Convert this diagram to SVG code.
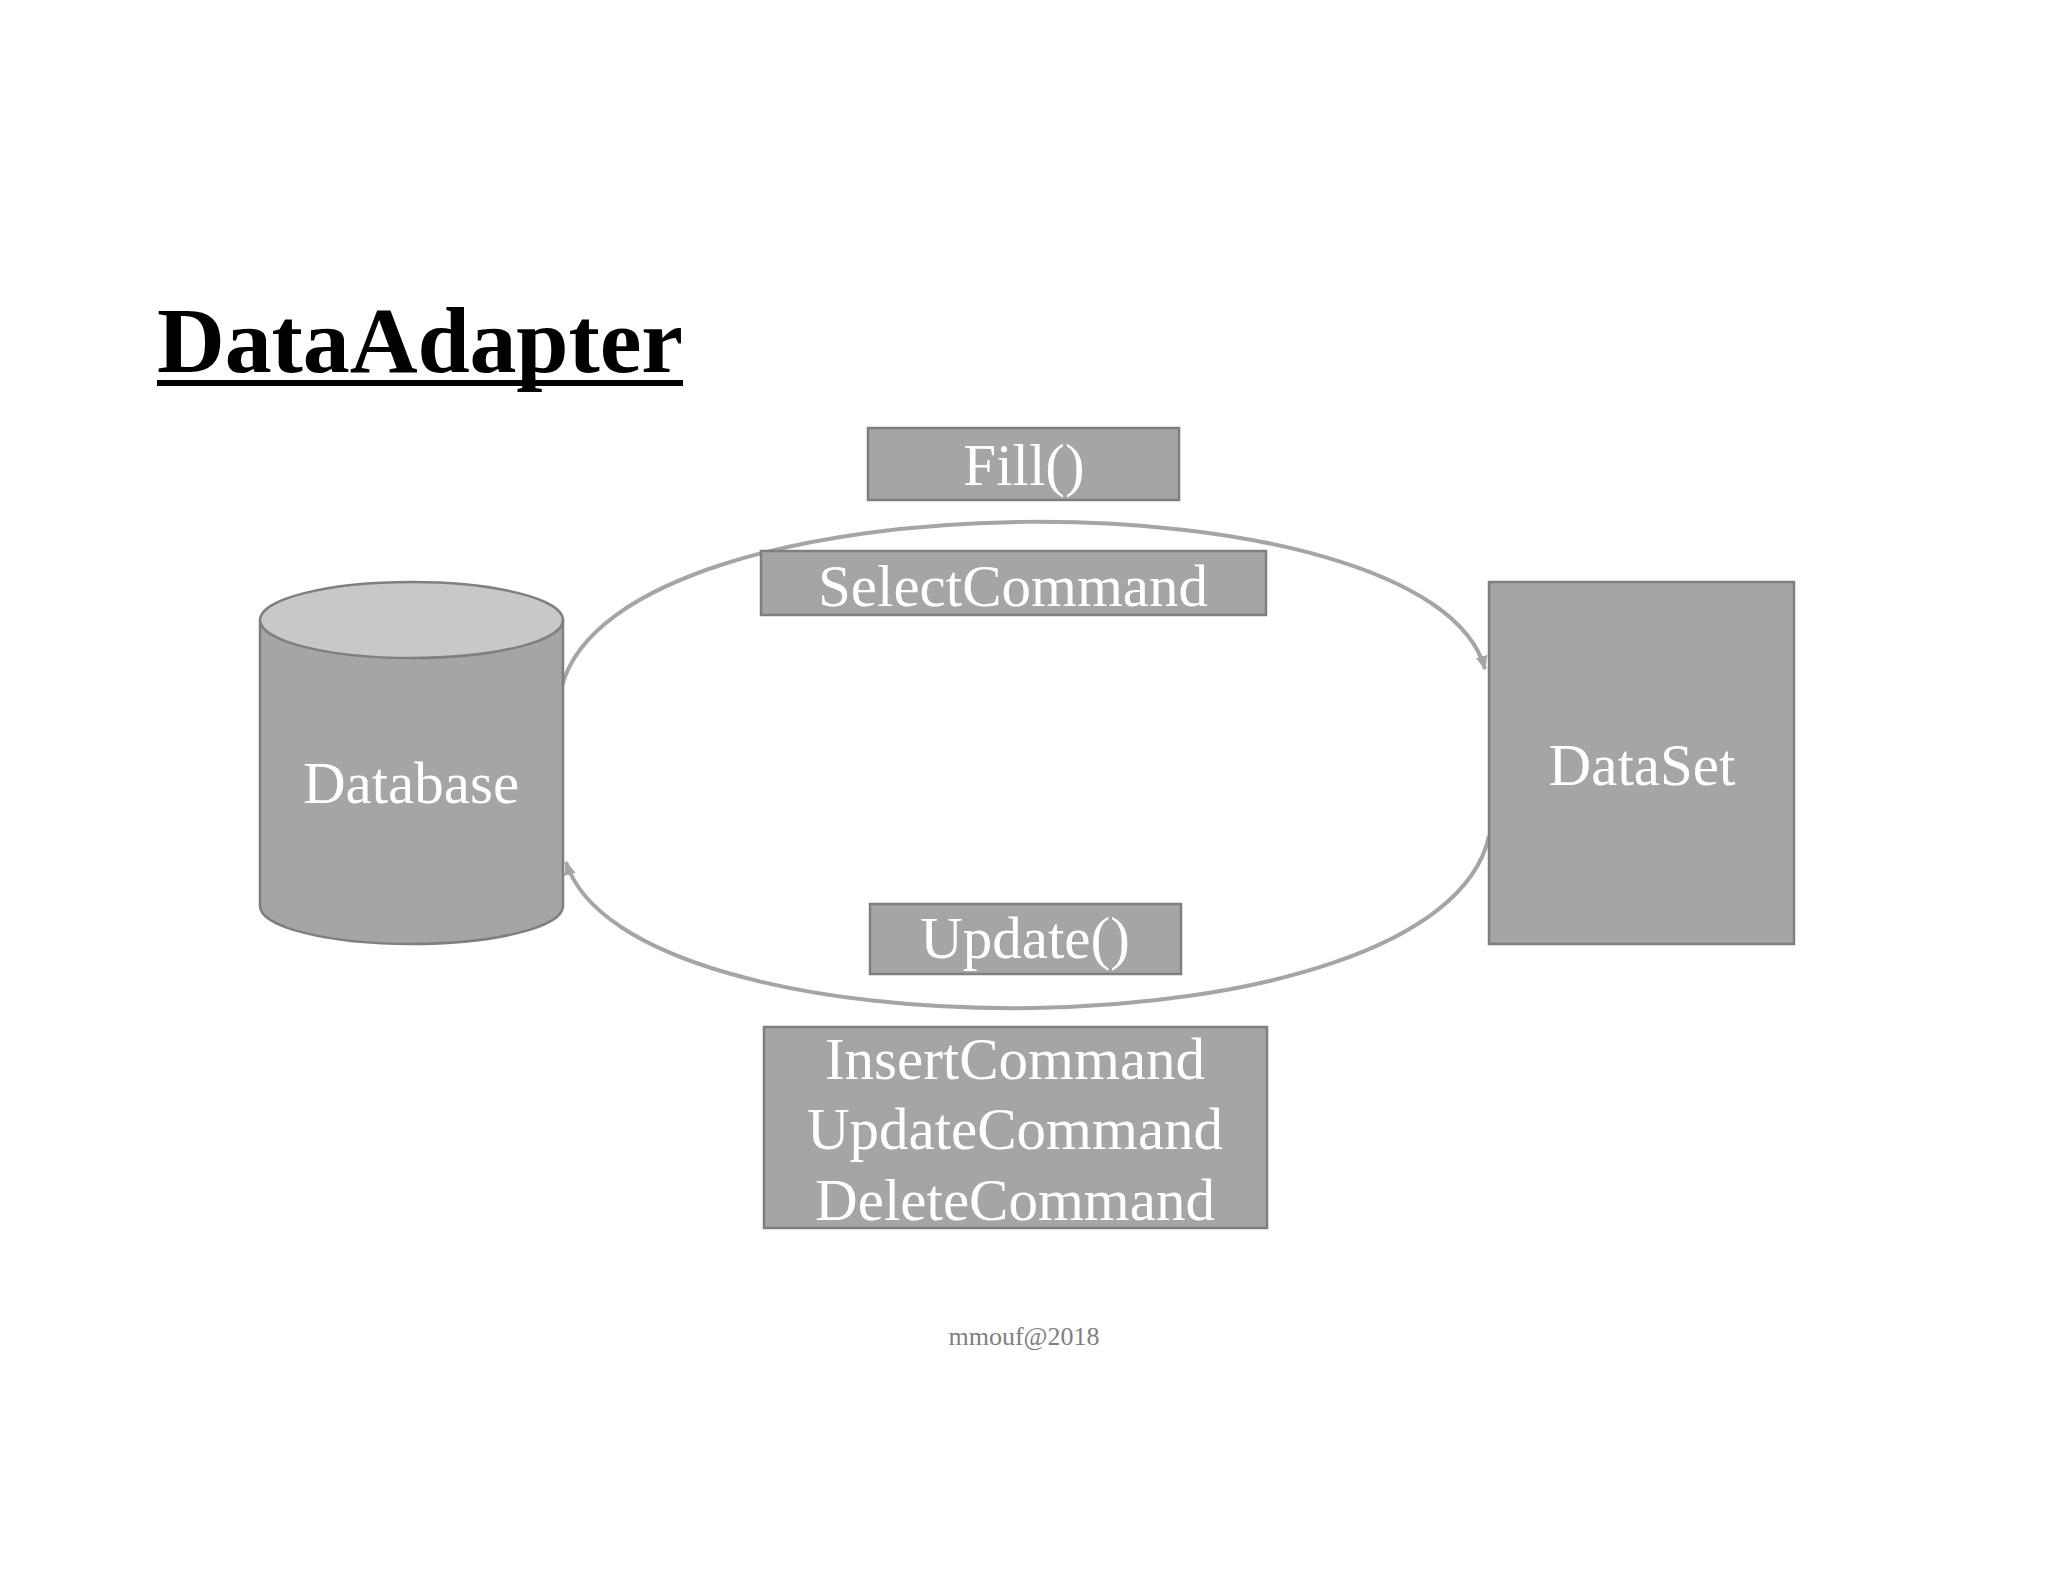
<svg xmlns="http://www.w3.org/2000/svg" width="2048" height="1582" viewBox="0 0 2048 1582">
<style>
.box{fill:#a5a5a5;stroke:#7f7f7f;stroke-width:2.5}
.t{font-family:"Liberation Serif",serif;fill:#fff;font-size:59px;text-anchor:middle}
.c{fill:none;stroke:#a5a5a5;stroke-width:4}
</style>
<defs><marker id="a" markerWidth="14" markerHeight="12" refX="13" refY="6" orient="auto" markerUnits="userSpaceOnUse"><path d="M0,0 L14,6 L0,12 z" fill="#a5a5a5"/></marker></defs>
<rect width="2048" height="1582" fill="#fff"/>
<g id="title"><text x="157" y="372" font-family="Liberation Serif,serif" font-weight="bold" font-size="94" textLength="526">DataAdapter</text><rect x="157" y="380" width="526" height="6" fill="#000"/></g>
<g id="connectors">
<path class="c" d="M562,686 C620,470 1431,470 1485,669" marker-end="url(#a)"/>
<path class="c" d="M1489,836 C1440,1061 628,1061 566,862" marker-end="url(#a)"/>
</g>
<g id="database"><path class="box" d="M260,620 L260,906 A151.5,38 0 0 0 563,906 L563,620 Z"/><ellipse cx="411.5" cy="620" rx="151.5" ry="38" fill="#c8c8c8" stroke="#7f7f7f" stroke-width="2.5"/><text class="t" x="411" y="803">Database</text></g>
<g id="dataset"><rect class="box" x="1489" y="582" width="305" height="362"/><text class="t" x="1642" y="785">DataSet</text></g>
<g id="fill"><rect class="box" x="868" y="428" width="311" height="72"/><text class="t" x="1024" y="485">Fill()</text></g>
<g id="select"><rect class="box" x="761" y="551" width="505" height="64"/><text class="t" x="1013" y="606">SelectCommand</text></g>
<g id="update"><rect class="box" x="870" y="904" width="311" height="70"/><text class="t" x="1025" y="958">Update()</text></g>
<g id="cmds"><rect class="box" x="764" y="1027" width="503" height="201"/><text class="t" x="1015" y="1079">InsertCommand</text><text class="t" x="1015" y="1149">UpdateCommand</text><text class="t" x="1015" y="1220">DeleteCommand</text></g>
<text x="1024" y="1345" font-family="Liberation Serif,serif" font-size="26" fill="#808080" text-anchor="middle">mmouf@2018</text>
</svg>
